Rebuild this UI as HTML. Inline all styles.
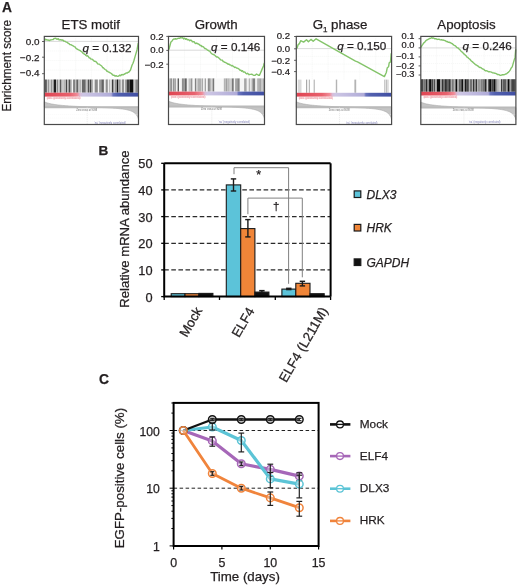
<!DOCTYPE html>
<html><head><meta charset="utf-8"><style>
html,body{margin:0;padding:0;background:#fff;}
svg{display:block;font-family:"Liberation Sans", Arial, Helvetica, sans-serif;filter:blur(0.3px);}
.h{stroke:#231f20;stroke-width:0.25px;}
</style></head><body>
<svg width="520" height="586" viewBox="0 0 520 586">
<rect width="520" height="586" fill="#fff"/>
<text x="2.1" y="11.9" font-size="13.8" font-weight="bold" fill="#231f20" class="h">A</text>
<text transform="translate(10.9,65.8) rotate(-90) scale(0.95,1)" font-size="12.4" text-anchor="middle" fill="#231f20" class="h">Enrichment score</text>
<defs>
<linearGradient id="cbh0" x1="0" x2="1" y1="0" y2="0">
<stop offset="0" stop-color="#e04452"/><stop offset="0.270" stop-color="#e8626e"/><stop offset="0.350" stop-color="#f08c98"/><stop offset="0.380" stop-color="#d8bcd8"/><stop offset="0.410" stop-color="#cdc6e4"/>
<stop offset="0.710" stop-color="#b0acd8"/><stop offset="0.730" stop-color="#6a74be"/><stop offset="0.780" stop-color="#5260ae"/><stop offset="1" stop-color="#404ea2"/></linearGradient>
<linearGradient id="cbh1" x1="0" x2="1" y1="0" y2="0">
<stop offset="0" stop-color="#e04452"/><stop offset="0.270" stop-color="#e8626e"/><stop offset="0.350" stop-color="#f08c98"/><stop offset="0.380" stop-color="#d8bcd8"/><stop offset="0.410" stop-color="#cdc6e4"/>
<stop offset="0.710" stop-color="#b0acd8"/><stop offset="0.730" stop-color="#6a74be"/><stop offset="0.780" stop-color="#5260ae"/><stop offset="1" stop-color="#404ea2"/></linearGradient>
<linearGradient id="cbh2" x1="0" x2="1" y1="0" y2="0">
<stop offset="0" stop-color="#e04452"/><stop offset="0.270" stop-color="#e8626e"/><stop offset="0.350" stop-color="#f08c98"/><stop offset="0.380" stop-color="#d8bcd8"/><stop offset="0.410" stop-color="#cdc6e4"/>
<stop offset="0.710" stop-color="#b0acd8"/><stop offset="0.730" stop-color="#6a74be"/><stop offset="0.780" stop-color="#5260ae"/><stop offset="1" stop-color="#404ea2"/></linearGradient>
<linearGradient id="cbh3" x1="0" x2="1" y1="0" y2="0">
<stop offset="0" stop-color="#e04452"/><stop offset="0.270" stop-color="#e8626e"/><stop offset="0.350" stop-color="#f08c98"/><stop offset="0.380" stop-color="#d8bcd8"/><stop offset="0.410" stop-color="#cdc6e4"/>
<stop offset="0.710" stop-color="#b0acd8"/><stop offset="0.730" stop-color="#6a74be"/><stop offset="0.780" stop-color="#5260ae"/><stop offset="1" stop-color="#404ea2"/></linearGradient>
</defs>
<text x="90.75" y="29.2" font-size="13.3" text-anchor="middle" fill="#231f20" class="h">ETS motif</text>
<rect x="44.3" y="36.4" width="94.2" height="88.1" fill="#fff"/>
<line x1="60.0" y1="38.4" x2="60.0" y2="79.5" stroke="#eef0ee" stroke-width="0.6" stroke-dasharray="1,1"/>
<line x1="75.7" y1="38.4" x2="75.7" y2="79.5" stroke="#eef0ee" stroke-width="0.6" stroke-dasharray="1,1"/>
<line x1="91.4" y1="38.4" x2="91.4" y2="79.5" stroke="#eef0ee" stroke-width="0.6" stroke-dasharray="1,1"/>
<line x1="107.1" y1="38.4" x2="107.1" y2="79.5" stroke="#eef0ee" stroke-width="0.6" stroke-dasharray="1,1"/>
<line x1="122.8" y1="38.4" x2="122.8" y2="79.5" stroke="#eef0ee" stroke-width="0.6" stroke-dasharray="1,1"/>
<line x1="44.3" y1="50.9" x2="138.5" y2="50.9" stroke="#f0f2f0" stroke-width="0.6" stroke-dasharray="1,1"/>
<line x1="44.3" y1="60.5" x2="138.5" y2="60.5" stroke="#f0f2f0" stroke-width="0.6" stroke-dasharray="1,1"/>
<line x1="44.3" y1="70.0" x2="138.5" y2="70.0" stroke="#f0f2f0" stroke-width="0.6" stroke-dasharray="1,1"/>
<line x1="44.3" y1="41.4" x2="138.5" y2="41.4" stroke="#d0d0d0" stroke-width="0.8"/>
<polyline points="44.6,40.50 45.5,39.15 46.3,39.52 47.1,40.14 47.9,39.95 48.7,40.25 49.5,40.59 50.4,39.87 51.3,39.88 52.2,39.68 53.2,39.53 54.1,38.51 55.0,38.40 55.8,38.32 56.6,39.17 57.4,39.18 58.2,38.66 59.0,39.73 59.8,39.84 60.6,39.65 61.4,40.03 62.2,39.98 63.1,40.25 63.9,41.17 64.7,41.12 65.5,41.66 66.4,42.12 67.2,42.32 68.0,43.16 68.9,43.61 69.8,44.48 70.8,44.62 71.7,45.21 72.6,45.53 73.5,46.16 74.3,46.57 75.2,47.00 76.0,48.33 76.8,48.94 77.7,49.40 78.5,49.87 79.3,50.09 80.2,50.62 81.0,51.29 81.8,51.66 82.6,52.95 83.5,53.17 84.3,54.21 85.1,54.34 85.9,55.50 86.7,55.98 87.5,55.73 88.4,56.53 89.2,57.82 90.0,57.97 90.9,59.07 91.7,59.08 92.6,59.35 93.4,60.49 94.3,61.23 95.1,61.32 96.0,61.72 96.8,62.56 97.7,63.78 98.5,64.17 99.4,64.12 100.2,64.97 101.0,65.55 101.9,66.23 102.7,67.69 103.5,67.79 104.3,68.89 105.2,69.50 106.0,69.97 106.8,71.23 107.6,71.13 108.4,72.14 109.3,72.12 110.1,72.92 110.9,73.21 111.7,73.77 112.6,74.97 113.4,75.30 114.2,75.30 115.1,76.15 116.1,75.74 117.0,76.19 117.9,76.39 118.8,75.92 119.7,75.12 120.6,75.75 121.5,74.71 122.3,74.56 123.2,74.87 124.0,74.23 124.8,74.00 125.6,73.35 126.4,72.95 127.3,73.02 128.1,72.26 128.9,72.20 130.5,69.97 132.1,65.05 132.9,63.51 133.8,60.98 135.4,55.37 137.0,49.97 138.3,43.00" fill="none" stroke="#84c46a" stroke-width="1.4" stroke-linejoin="round"/>
<text x="131.5" y="51.5" font-size="11.7" text-anchor="end" fill="#231f20" class="h"><tspan font-style="italic">q</tspan> = 0.132</text>
<rect x="44.8" y="79.5" width="1.20" height="13.2" fill="rgb(90,90,90)"/>
<rect x="46" y="79.5" width="1.00" height="13.2" fill="rgb(110,110,110)"/>
<rect x="47" y="79.5" width="1.00" height="13.2" fill="rgb(200,200,200)"/>
<rect x="48" y="79.5" width="1.00" height="13.2" fill="rgb(150,150,150)"/>
<rect x="49" y="79.5" width="2.00" height="13.2" fill="rgb(205,205,205)"/>
<rect x="51" y="79.5" width="1.00" height="13.2" fill="rgb(150,150,150)"/>
<rect x="52" y="79.5" width="1.00" height="13.2" fill="rgb(195,195,195)"/>
<rect x="53" y="79.5" width="0.80" height="13.2" fill="rgb(160,160,160)"/>
<rect x="53.8" y="79.5" width="2.20" height="13.2" fill="rgb(30,30,30)"/>
<rect x="56" y="79.5" width="1.00" height="13.2" fill="rgb(190,190,190)"/>
<rect x="57" y="79.5" width="1.20" height="13.2" fill="rgb(140,140,140)"/>
<rect x="58.2" y="79.5" width="1.60" height="13.2" fill="rgb(200,200,200)"/>
<rect x="59.8" y="79.5" width="1.20" height="13.2" fill="rgb(90,90,90)"/>
<rect x="61" y="79.5" width="1.00" height="13.2" fill="rgb(175,175,175)"/>
<rect x="62" y="79.5" width="2.00" height="13.2" fill="rgb(200,200,200)"/>
<rect x="64" y="79.5" width="1.00" height="13.2" fill="rgb(180,180,180)"/>
<rect x="65" y="79.5" width="0.80" height="13.2" fill="rgb(195,195,195)"/>
<rect x="65.8" y="79.5" width="1.20" height="13.2" fill="rgb(70,70,70)"/>
<rect x="67" y="79.5" width="1.60" height="13.2" fill="rgb(190,190,190)"/>
<rect x="68.6" y="79.5" width="1.40" height="13.2" fill="rgb(80,80,80)"/>
<rect x="70" y="79.5" width="1.80" height="13.2" fill="rgb(160,160,160)"/>
<rect x="71.8" y="79.5" width="1.40" height="13.2" fill="rgb(245,245,245)"/>
<rect x="73.2" y="79.5" width="1.70" height="13.2" fill="rgb(110,110,110)"/>
<rect x="74.9" y="79.5" width="1.40" height="13.2" fill="rgb(190,190,190)"/>
<rect x="76.3" y="79.5" width="2.20" height="13.2" fill="rgb(100,100,100)"/>
<rect x="78.5" y="79.5" width="1.00" height="13.2" fill="rgb(200,200,200)"/>
<rect x="79.5" y="79.5" width="1.40" height="13.2" fill="rgb(165,165,165)"/>
<rect x="80.9" y="79.5" width="0.90" height="13.2" fill="rgb(240,240,240)"/>
<rect x="81.8" y="79.5" width="3.90" height="13.2" fill="rgb(105,105,105)"/>
<rect x="85.7" y="79.5" width="0.80" height="13.2" fill="rgb(140,140,140)"/>
<rect x="86.5" y="79.5" width="1.20" height="13.2" fill="rgb(200,200,200)"/>
<rect x="87.7" y="79.5" width="1.30" height="13.2" fill="rgb(80,80,80)"/>
<rect x="89" y="79.5" width="0.90" height="13.2" fill="rgb(160,160,160)"/>
<rect x="89.9" y="79.5" width="1.30" height="13.2" fill="rgb(70,70,70)"/>
<rect x="91.2" y="79.5" width="1.60" height="13.2" fill="rgb(140,140,140)"/>
<rect x="92.8" y="79.5" width="1.70" height="13.2" fill="rgb(240,240,240)"/>
<rect x="94.5" y="79.5" width="0.50" height="13.2" fill="rgb(170,170,170)"/>
<rect x="95" y="79.5" width="2.90" height="13.2" fill="rgb(140,140,140)"/>
<rect x="97.9" y="79.5" width="1.20" height="13.2" fill="rgb(245,245,245)"/>
<rect x="99.1" y="79.5" width="2.20" height="13.2" fill="rgb(155,155,155)"/>
<rect x="101.3" y="79.5" width="2.60" height="13.2" fill="rgb(100,100,100)"/>
<rect x="103.9" y="79.5" width="0.50" height="13.2" fill="rgb(170,170,170)"/>
<rect x="104.4" y="79.5" width="1.20" height="13.2" fill="rgb(245,245,245)"/>
<rect x="105.6" y="79.5" width="0.70" height="13.2" fill="rgb(150,150,150)"/>
<rect x="106.3" y="79.5" width="1.20" height="13.2" fill="rgb(110,110,110)"/>
<rect x="107.5" y="79.5" width="0.70" height="13.2" fill="rgb(150,150,150)"/>
<rect x="108.2" y="79.5" width="1.00" height="13.2" fill="rgb(240,240,240)"/>
<rect x="109.2" y="79.5" width="1.30" height="13.2" fill="rgb(170,170,170)"/>
<rect x="110.5" y="79.5" width="1.00" height="13.2" fill="rgb(235,235,235)"/>
<rect x="111.5" y="79.5" width="0.60" height="13.2" fill="rgb(160,160,160)"/>
<rect x="112.1" y="79.5" width="1.10" height="13.2" fill="rgb(40,40,40)"/>
<rect x="113.2" y="79.5" width="0.80" height="13.2" fill="rgb(140,140,140)"/>
<rect x="114" y="79.5" width="1.00" height="13.2" fill="rgb(200,200,200)"/>
<rect x="115" y="79.5" width="1.90" height="13.2" fill="rgb(150,150,150)"/>
<rect x="116.9" y="79.5" width="1.30" height="13.2" fill="rgb(20,20,20)"/>
<rect x="118.2" y="79.5" width="2.60" height="13.2" fill="rgb(150,150,150)"/>
<rect x="120.8" y="79.5" width="1.00" height="13.2" fill="rgb(235,235,235)"/>
<rect x="121.8" y="79.5" width="0.80" height="13.2" fill="rgb(160,160,160)"/>
<rect x="122.6" y="79.5" width="1.00" height="13.2" fill="rgb(70,70,70)"/>
<rect x="123.6" y="79.5" width="0.60" height="13.2" fill="rgb(160,160,160)"/>
<rect x="124.2" y="79.5" width="1.00" height="13.2" fill="rgb(230,230,230)"/>
<rect x="125.2" y="79.5" width="1.80" height="13.2" fill="rgb(145,145,145)"/>
<rect x="127" y="79.5" width="2.60" height="13.2" fill="rgb(65,65,65)"/>
<rect x="129.6" y="79.5" width="3.40" height="13.2" fill="rgb(15,15,15)"/>
<rect x="133" y="79.5" width="1.50" height="13.2" fill="rgb(150,150,150)"/>
<rect x="134.5" y="79.5" width="0.80" height="13.2" fill="rgb(210,210,210)"/>
<rect x="135.3" y="79.5" width="2.90" height="13.2" fill="rgb(140,140,140)"/>
<rect x="44.3" y="92.7" width="94.2" height="3.9" fill="url(#cbh0)"/>
<rect x="46.599999999999994" y="97.5" width="33.9" height="1.3" fill="#f8d4d8"/>
<text x="46.599999999999994" y="99.0" font-size="2.9" fill="#ee98a2" textLength="33.9" lengthAdjust="spacingAndGlyphs">'pos' (positively correlated)</text>
<polygon points="44.3,107.2 44.30,101.79 45.08,102.12 45.87,102.42 46.65,102.70 47.44,102.95 48.22,103.17 49.01,103.38 49.79,103.57 50.58,103.75 51.36,103.91 52.15,104.07 52.93,104.21 53.72,104.34 54.50,104.47 55.29,104.59 56.07,104.70 56.86,104.80 57.64,104.90 58.43,105.00 59.21,105.09 60.00,105.17 60.78,105.25 61.57,105.33 62.36,105.40 63.14,105.48 63.92,105.54 64.71,105.61 65.50,105.67 66.28,105.73 67.06,105.79 67.85,105.85 68.64,105.90 69.42,105.96 70.20,106.01 70.99,106.06 71.78,106.10 72.56,106.15 73.34,106.20 74.13,106.24 74.91,106.28 75.70,106.33 76.48,106.37 77.27,106.41 78.06,106.45 78.84,106.49 79.62,106.53 80.41,106.56 81.19,106.60 81.98,106.64 82.77,106.67 83.55,106.71 84.34,106.74 85.12,106.78 85.91,106.81 86.69,106.85 87.47,106.88 88.26,106.92 89.04,106.95 89.83,106.98 90.61,107.02 91.40,107.05 92.19,107.08 92.97,107.12 93.75,107.15 94.54,107.18 95.32,107.22 96.11,107.25 96.90,107.28 97.68,107.32 98.47,107.35 99.25,107.39 100.03,107.42 100.82,107.46 101.60,107.50 102.39,107.53 103.17,107.57 103.96,107.61 104.75,107.65 105.53,107.69 106.31,107.73 107.10,107.77 107.89,107.82 108.67,107.86 109.45,107.91 110.24,107.96 111.03,108.01 111.81,108.06 112.59,108.11 113.38,108.16 114.17,108.22 114.95,108.28 115.73,108.34 116.52,108.41 117.31,108.48 118.09,108.55 118.88,108.63 119.66,108.71 120.45,108.80 121.23,108.89 122.02,108.99 122.80,109.09 123.58,109.21 124.37,109.33 125.16,109.46 125.94,109.60 126.72,109.76 127.51,109.94 128.30,110.13 129.08,110.34 129.87,110.58 130.65,110.85 131.44,111.15 132.22,111.51 133.00,111.91 133.79,112.39 134.57,112.97 135.36,113.67 136.14,114.54 136.93,115.66 137.72,117.13 138.50,119.19 138.5,107.2" fill="#c4c4c4" stroke="#a6a6a6" stroke-width="0.6"/>
<line x1="44.3" y1="107.2" x2="138.5" y2="107.2" stroke="#bababa" stroke-width="2"/>
<line x1="44.3" y1="114.5" x2="138.5" y2="114.5" stroke="#f5f5f5" stroke-width="0.5" stroke-dasharray="1,1"/>
<line x1="44.3" y1="118.0" x2="138.5" y2="118.0" stroke="#f5f5f5" stroke-width="0.5" stroke-dasharray="1,1"/>
<line x1="44.3" y1="121.0" x2="138.5" y2="121.0" stroke="#f5f5f5" stroke-width="0.5" stroke-dasharray="1,1"/>
<line x1="87.2" y1="107.2" x2="87.2" y2="124.5" stroke="#dadada" stroke-width="0.6" stroke-dasharray="1,1"/>
<text x="76.2" y="110.9" font-size="2.8" fill="#6a6a6a" textLength="21" lengthAdjust="spacingAndGlyphs">Zero cross at 9098</text>
<text x="94.3" y="123.7" font-size="2.8" fill="#8080b8" textLength="31.5" lengthAdjust="spacingAndGlyphs">'na' (negatively correlated)</text>
<rect x="44.3" y="36.4" width="94.2" height="88.1" fill="none" stroke="#4a4a4a" stroke-width="1.2"/>
<line x1="42.099999999999994" y1="41.5" x2="44.3" y2="41.5" stroke="#4a4a4a" stroke-width="0.9"/>
<line x1="42.099999999999994" y1="57.2" x2="44.3" y2="57.2" stroke="#4a4a4a" stroke-width="0.9"/>
<line x1="42.099999999999994" y1="73.7" x2="44.3" y2="73.7" stroke="#4a4a4a" stroke-width="0.9"/>
<text transform="translate(39.4,45.4) scale(1,1.0)" font-size="9.9" text-anchor="end" fill="#231f20" class="h">0.0</text>
<text transform="translate(39.4,60.7) scale(1,1.0)" font-size="9.9" text-anchor="end" fill="#231f20" class="h">&#8722;0.2</text>
<text transform="translate(39.4,76.4) scale(1,1.0)" font-size="9.9" text-anchor="end" fill="#231f20" class="h">&#8722;0.4</text>
<text x="216.2" y="29.2" font-size="13.3" text-anchor="middle" fill="#231f20" class="h">Growth</text>
<rect x="168.5" y="36.4" width="96.0" height="88.1" fill="#fff"/>
<line x1="184.5" y1="38.4" x2="184.5" y2="78.4" stroke="#eef0ee" stroke-width="0.6" stroke-dasharray="1,1"/>
<line x1="200.5" y1="38.4" x2="200.5" y2="78.4" stroke="#eef0ee" stroke-width="0.6" stroke-dasharray="1,1"/>
<line x1="216.5" y1="38.4" x2="216.5" y2="78.4" stroke="#eef0ee" stroke-width="0.6" stroke-dasharray="1,1"/>
<line x1="232.5" y1="38.4" x2="232.5" y2="78.4" stroke="#eef0ee" stroke-width="0.6" stroke-dasharray="1,1"/>
<line x1="248.5" y1="38.4" x2="248.5" y2="78.4" stroke="#eef0ee" stroke-width="0.6" stroke-dasharray="1,1"/>
<line x1="168.5" y1="57.2" x2="264.5" y2="57.2" stroke="#f0f2f0" stroke-width="0.6" stroke-dasharray="1,1"/>
<line x1="168.5" y1="64.3" x2="264.5" y2="64.3" stroke="#f0f2f0" stroke-width="0.6" stroke-dasharray="1,1"/>
<line x1="168.5" y1="71.4" x2="264.5" y2="71.4" stroke="#f0f2f0" stroke-width="0.6" stroke-dasharray="1,1"/>
<line x1="168.5" y1="50.2" x2="264.5" y2="50.2" stroke="#d0d0d0" stroke-width="0.8"/>
<polyline points="168.9,49.70 169.9,45.72 170.9,41.99 171.9,41.23 172.8,39.84 173.8,38.91 174.6,39.11 175.4,38.75 176.2,39.15 177.0,38.77 177.8,38.42 178.8,38.27 179.8,38.29 180.7,37.57 181.7,37.83 182.7,37.74 183.6,38.89 184.6,38.12 185.6,39.28 186.4,38.68 187.3,39.70 188.1,39.56 189.0,39.93 189.8,40.74 190.7,40.04 191.5,40.37 192.4,41.83 193.2,41.78 194.1,41.71 195.0,43.22 195.8,43.60 196.7,43.04 197.6,43.84 198.4,43.93 199.3,44.58 200.2,45.49 201.1,45.49 201.9,46.67 202.8,46.44 203.7,47.13 204.6,48.45 205.4,48.49 206.3,49.06 207.2,49.82 208.1,50.33 208.9,50.87 209.8,51.10 210.7,52.59 211.5,53.54 212.4,54.20 213.3,54.49 214.1,54.77 215.0,55.44 215.8,56.39 216.6,56.94 217.4,56.84 218.3,57.55 219.1,58.27 219.9,59.01 220.7,59.94 221.5,60.13 222.4,60.13 223.2,61.65 224.0,61.75 224.8,62.42 225.6,62.47 226.5,63.13 227.3,63.49 228.1,64.36 228.9,63.96 229.8,64.91 230.6,64.87 231.4,65.90 232.2,65.52 233.0,66.22 233.9,66.70 234.7,67.46 235.6,67.16 236.5,68.05 237.4,68.15 238.3,68.64 239.2,69.27 240.1,70.25 240.9,70.16 241.7,71.21 242.6,70.74 243.4,72.13 244.2,71.94 245.0,72.15 245.8,73.24 246.7,73.85 247.5,73.19 248.3,73.92 249.1,74.68 249.9,74.33 250.8,74.37 251.6,74.25 252.4,74.45 253.2,75.06 254.0,75.42 254.9,75.36 255.7,74.68 256.5,74.03 257.5,74.52 258.4,75.21 259.4,75.40 260.6,72.67 262.2,68.88 263.5,66.03 264.3,63.00" fill="none" stroke="#84c46a" stroke-width="1.4" stroke-linejoin="round"/>
<text x="260.2" y="50.9" font-size="11.7" text-anchor="end" fill="#231f20" class="h"><tspan font-style="italic">q</tspan> = 0.146</text>
<rect x="169" y="78.4" width="1.50" height="13.2" fill="rgb(200,200,200)"/>
<rect x="170.5" y="78.4" width="1.30" height="13.2" fill="rgb(100,100,100)"/>
<rect x="171.8" y="78.4" width="1.20" height="13.2" fill="rgb(220,220,220)"/>
<rect x="173" y="78.4" width="1.20" height="13.2" fill="rgb(150,150,150)"/>
<rect x="174.2" y="78.4" width="1.80" height="13.2" fill="rgb(165,165,165)"/>
<rect x="176" y="78.4" width="1.60" height="13.2" fill="rgb(240,240,240)"/>
<rect x="177.6" y="78.4" width="1.40" height="13.2" fill="rgb(95,95,95)"/>
<rect x="179" y="78.4" width="2.90" height="13.2" fill="rgb(245,245,245)"/>
<rect x="181.9" y="78.4" width="1.00" height="13.2" fill="rgb(130,130,130)"/>
<rect x="182.9" y="78.4" width="1.90" height="13.2" fill="rgb(150,150,150)"/>
<rect x="184.8" y="78.4" width="1.20" height="13.2" fill="rgb(100,100,100)"/>
<rect x="186" y="78.4" width="1.00" height="13.2" fill="rgb(140,140,140)"/>
<rect x="187" y="78.4" width="1.50" height="13.2" fill="rgb(240,240,240)"/>
<rect x="188.5" y="78.4" width="2.50" height="13.2" fill="rgb(195,195,195)"/>
<rect x="191" y="78.4" width="1.40" height="13.2" fill="rgb(150,150,150)"/>
<rect x="192.4" y="78.4" width="0.50" height="13.2" fill="rgb(200,200,200)"/>
<rect x="192.9" y="78.4" width="1.70" height="13.2" fill="rgb(245,245,245)"/>
<rect x="194.6" y="78.4" width="0.40" height="13.2" fill="rgb(200,200,200)"/>
<rect x="195" y="78.4" width="1.30" height="13.2" fill="rgb(130,130,130)"/>
<rect x="196.3" y="78.4" width="1.60" height="13.2" fill="rgb(200,200,200)"/>
<rect x="197.9" y="78.4" width="3.10" height="13.2" fill="rgb(175,175,175)"/>
<rect x="201" y="78.4" width="1.00" height="13.2" fill="rgb(205,205,205)"/>
<rect x="202" y="78.4" width="1.00" height="13.2" fill="rgb(170,170,170)"/>
<rect x="203" y="78.4" width="0.50" height="13.2" fill="rgb(210,210,210)"/>
<rect x="203.5" y="78.4" width="0.90" height="13.2" fill="rgb(245,245,245)"/>
<rect x="204.4" y="78.4" width="0.50" height="13.2" fill="rgb(200,200,200)"/>
<rect x="204.9" y="78.4" width="1.00" height="13.2" fill="rgb(150,150,150)"/>
<rect x="205.9" y="78.4" width="0.20" height="13.2" fill="rgb(200,200,200)"/>
<rect x="206.1" y="78.4" width="1.40" height="13.2" fill="rgb(245,245,245)"/>
<rect x="207.5" y="78.4" width="0.80" height="13.2" fill="rgb(200,200,200)"/>
<rect x="208.3" y="78.4" width="1.40" height="13.2" fill="rgb(100,100,100)"/>
<rect x="209.7" y="78.4" width="0.50" height="13.2" fill="rgb(170,170,170)"/>
<rect x="210.2" y="78.4" width="1.00" height="13.2" fill="rgb(170,170,170)"/>
<rect x="211.2" y="78.4" width="1.40" height="13.2" fill="rgb(205,205,205)"/>
<rect x="212.6" y="78.4" width="1.60" height="13.2" fill="rgb(120,120,120)"/>
<rect x="214.2" y="78.4" width="0.80" height="13.2" fill="rgb(220,220,220)"/>
<rect x="215" y="78.4" width="8.80" height="13.2" fill="rgb(248,248,248)"/>
<rect x="223.8" y="78.4" width="1.50" height="13.2" fill="rgb(180,180,180)"/>
<rect x="225.3" y="78.4" width="0.70" height="13.2" fill="rgb(175,175,175)"/>
<rect x="226" y="78.4" width="1.40" height="13.2" fill="rgb(160,160,160)"/>
<rect x="227.4" y="78.4" width="1.00" height="13.2" fill="rgb(180,180,180)"/>
<rect x="228.4" y="78.4" width="1.20" height="13.2" fill="rgb(160,160,160)"/>
<rect x="229.6" y="78.4" width="2.20" height="13.2" fill="rgb(210,210,210)"/>
<rect x="231.8" y="78.4" width="1.40" height="13.2" fill="rgb(120,120,120)"/>
<rect x="233.2" y="78.4" width="1.00" height="13.2" fill="rgb(140,140,140)"/>
<rect x="234.2" y="78.4" width="0.90" height="13.2" fill="rgb(245,245,245)"/>
<rect x="235.1" y="78.4" width="2.10" height="13.2" fill="rgb(165,165,165)"/>
<rect x="237.2" y="78.4" width="2.60" height="13.2" fill="rgb(135,135,135)"/>
<rect x="239.8" y="78.4" width="4.30" height="13.2" fill="rgb(245,245,245)"/>
<rect x="244.1" y="78.4" width="2.60" height="13.2" fill="rgb(165,165,165)"/>
<rect x="246.7" y="78.4" width="0.30" height="13.2" fill="rgb(200,200,200)"/>
<rect x="247" y="78.4" width="1.70" height="13.2" fill="rgb(240,240,240)"/>
<rect x="248.7" y="78.4" width="1.70" height="13.2" fill="rgb(180,180,180)"/>
<rect x="250.4" y="78.4" width="1.20" height="13.2" fill="rgb(235,235,235)"/>
<rect x="251.6" y="78.4" width="1.10" height="13.2" fill="rgb(160,160,160)"/>
<rect x="252.7" y="78.4" width="2.30" height="13.2" fill="rgb(130,130,130)"/>
<rect x="255" y="78.4" width="0.60" height="13.2" fill="rgb(200,200,200)"/>
<rect x="255.6" y="78.4" width="1.80" height="13.2" fill="rgb(240,240,240)"/>
<rect x="257.4" y="78.4" width="1.40" height="13.2" fill="rgb(150,150,150)"/>
<rect x="258.8" y="78.4" width="0.30" height="13.2" fill="rgb(210,210,210)"/>
<rect x="259.1" y="78.4" width="2.60" height="13.2" fill="rgb(165,165,165)"/>
<rect x="261.7" y="78.4" width="0.80" height="13.2" fill="rgb(215,215,215)"/>
<rect x="262.5" y="78.4" width="1.50" height="13.2" fill="rgb(170,170,170)"/>
<rect x="168.5" y="91.6" width="96.0" height="3.8" fill="url(#cbh1)"/>
<rect x="170.8" y="96.3" width="34.6" height="1.3" fill="#f8d4d8"/>
<text x="170.8" y="97.8" font-size="2.9" fill="#ee98a2" textLength="34.6" lengthAdjust="spacingAndGlyphs">'pos' (positively correlated)</text>
<polygon points="168.5,106.6 168.50,101.18 169.30,101.52 170.10,101.82 170.90,102.10 171.70,102.35 172.50,102.58 173.30,102.79 174.10,102.98 174.90,103.16 175.70,103.33 176.50,103.48 177.30,103.62 178.10,103.76 178.90,103.88 179.70,104.00 180.50,104.11 181.30,104.22 182.10,104.32 182.90,104.41 183.70,104.50 184.50,104.59 185.30,104.67 186.10,104.74 186.90,104.82 187.70,104.89 188.50,104.96 189.30,105.02 190.10,105.08 190.90,105.15 191.70,105.20 192.50,105.26 193.30,105.31 194.10,105.37 194.90,105.42 195.70,105.47 196.50,105.51 197.30,105.56 198.10,105.61 198.90,105.65 199.70,105.69 200.50,105.73 201.30,105.78 202.10,105.82 202.90,105.86 203.70,105.89 204.50,105.93 205.30,105.97 206.10,106.01 206.90,106.04 207.70,106.08 208.50,106.11 209.30,106.15 210.10,106.18 210.90,106.22 211.70,106.25 212.50,106.28 213.30,106.32 214.10,106.35 214.90,106.38 215.70,106.42 216.50,106.45 217.30,106.48 218.10,106.52 218.90,106.55 219.70,106.58 220.50,106.61 221.30,106.65 222.10,106.68 222.90,106.72 223.70,106.75 224.50,106.78 225.30,106.82 226.10,106.86 226.90,106.89 227.70,106.93 228.50,106.97 229.30,107.00 230.10,107.04 230.90,107.08 231.70,107.12 232.50,107.16 233.30,107.21 234.10,107.25 234.90,107.30 235.70,107.34 236.50,107.39 237.30,107.44 238.10,107.49 238.90,107.55 239.70,107.61 240.50,107.66 241.30,107.73 242.10,107.79 242.90,107.86 243.70,107.93 244.50,108.01 245.30,108.09 246.10,108.17 246.90,108.26 247.70,108.36 248.50,108.47 249.30,108.58 250.10,108.70 250.90,108.83 251.70,108.97 252.50,109.13 253.30,109.30 254.10,109.49 254.90,109.70 255.70,109.94 256.50,110.20 257.30,110.51 258.10,110.86 258.90,111.27 259.70,111.75 260.50,112.32 261.30,113.02 262.10,113.89 262.90,115.02 263.70,116.51 264.50,118.60 264.5,106.6" fill="#c4c4c4" stroke="#a6a6a6" stroke-width="0.6"/>
<line x1="168.5" y1="106.6" x2="264.5" y2="106.6" stroke="#bababa" stroke-width="2"/>
<line x1="168.5" y1="114.5" x2="264.5" y2="114.5" stroke="#f5f5f5" stroke-width="0.5" stroke-dasharray="1,1"/>
<line x1="168.5" y1="118.0" x2="264.5" y2="118.0" stroke="#f5f5f5" stroke-width="0.5" stroke-dasharray="1,1"/>
<line x1="168.5" y1="121.0" x2="264.5" y2="121.0" stroke="#f5f5f5" stroke-width="0.5" stroke-dasharray="1,1"/>
<line x1="211.8" y1="106.6" x2="211.8" y2="124.5" stroke="#dadada" stroke-width="0.6" stroke-dasharray="1,1"/>
<text x="201" y="109.8" font-size="2.8" fill="#6a6a6a" textLength="21" lengthAdjust="spacingAndGlyphs">Zero cross at 9098</text>
<text x="218.5" y="122.5" font-size="2.8" fill="#8080b8" textLength="31.5" lengthAdjust="spacingAndGlyphs">'na' (negatively correlated)</text>
<rect x="168.5" y="36.4" width="96.0" height="88.1" fill="none" stroke="#4a4a4a" stroke-width="1.2"/>
<line x1="166.3" y1="36.4" x2="168.5" y2="36.4" stroke="#4a4a4a" stroke-width="0.9"/>
<line x1="166.3" y1="50.4" x2="168.5" y2="50.4" stroke="#4a4a4a" stroke-width="0.9"/>
<line x1="166.3" y1="64.2" x2="168.5" y2="64.2" stroke="#4a4a4a" stroke-width="0.9"/>
<text transform="translate(163.5,40.4) scale(1,0.93)" font-size="9.6" text-anchor="end" fill="#231f20" class="h">0.2</text>
<text transform="translate(163.5,53.0) scale(1,0.93)" font-size="9.6" text-anchor="end" fill="#231f20" class="h">0.0</text>
<text transform="translate(163.5,67.6) scale(1,0.93)" font-size="9.6" text-anchor="end" fill="#231f20" class="h">&#8722;0.2</text>
<text x="340" y="29.2" font-size="13.3" text-anchor="middle" fill="#231f20" class="h">G<tspan font-size="8" dy="2.6">1</tspan><tspan dy="-2.6"> phase</tspan></text>
<rect x="296.3" y="36.4" width="95.30000000000001" height="88.1" fill="#fff"/>
<line x1="312.2" y1="38.4" x2="312.2" y2="79.6" stroke="#eef0ee" stroke-width="0.6" stroke-dasharray="1,1"/>
<line x1="328.1" y1="38.4" x2="328.1" y2="79.6" stroke="#eef0ee" stroke-width="0.6" stroke-dasharray="1,1"/>
<line x1="344.0" y1="38.4" x2="344.0" y2="79.6" stroke="#eef0ee" stroke-width="0.6" stroke-dasharray="1,1"/>
<line x1="359.8" y1="38.4" x2="359.8" y2="79.6" stroke="#eef0ee" stroke-width="0.6" stroke-dasharray="1,1"/>
<line x1="375.7" y1="38.4" x2="375.7" y2="79.6" stroke="#eef0ee" stroke-width="0.6" stroke-dasharray="1,1"/>
<line x1="296.3" y1="56.4" x2="391.6" y2="56.4" stroke="#f0f2f0" stroke-width="0.6" stroke-dasharray="1,1"/>
<line x1="296.3" y1="64.1" x2="391.6" y2="64.1" stroke="#f0f2f0" stroke-width="0.6" stroke-dasharray="1,1"/>
<line x1="296.3" y1="71.8" x2="391.6" y2="71.8" stroke="#f0f2f0" stroke-width="0.6" stroke-dasharray="1,1"/>
<line x1="296.3" y1="48.6" x2="391.6" y2="48.6" stroke="#d0d0d0" stroke-width="0.8"/>
<polyline points="296.9,48.40 298.2,44.60 299.4,43.60 300.7,40.70 303.6,42.10 306.5,39.80 308.4,41.70 310.9,39.40 313.2,41.30 316.1,38.80 355.5,61.20 357.5,61.90 384.4,76.60 386.3,72.50 387.3,67.70 388.6,66.70 389.2,62.80 390.5,61.90 391.2,53.20" fill="none" stroke="#84c46a" stroke-width="1.4" stroke-linejoin="round"/>
<text x="386.3" y="50.1" font-size="11.7" text-anchor="end" fill="#231f20" class="h"><tspan font-style="italic">q</tspan> = 0.150</text>
<rect x="297.8" y="79.6" width="3.70" height="13.2" fill="rgb(218,218,218)"/>
<rect x="306.0" y="79.6" width="1.20" height="13.2" fill="rgb(170,170,170)"/>
<rect x="308.8" y="79.6" width="1.00" height="13.2" fill="rgb(170,170,170)"/>
<rect x="313.7" y="79.6" width="1.00" height="13.2" fill="rgb(170,170,170)"/>
<rect x="335.8" y="79.6" width="1.40" height="13.2" fill="rgb(180,180,180)"/>
<rect x="354.4" y="79.6" width="1.80" height="13.2" fill="rgb(180,180,180)"/>
<rect x="384.2" y="79.6" width="1.00" height="13.2" fill="rgb(190,190,190)"/>
<rect x="385.2" y="79.6" width="0.80" height="13.2" fill="rgb(220,220,220)"/>
<rect x="386" y="79.6" width="1.20" height="13.2" fill="rgb(190,190,190)"/>
<rect x="387.5" y="79.6" width="1.00" height="13.2" fill="rgb(200,200,200)"/>
<rect x="296.3" y="92.8" width="95.30000000000001" height="3.8" fill="url(#cbh2)"/>
<rect x="298.6" y="97.5" width="34.3" height="1.3" fill="#f8d4d8"/>
<text x="298.6" y="99.0" font-size="2.9" fill="#ee98a2" textLength="34.3" lengthAdjust="spacingAndGlyphs">'pos' (positively correlated)</text>
<polygon points="296.3,107.2 296.30,101.78 297.09,102.12 297.89,102.42 298.68,102.70 299.48,102.95 300.27,103.18 301.06,103.39 301.86,103.58 302.65,103.76 303.45,103.92 304.24,104.07 305.04,104.22 305.83,104.35 306.62,104.48 307.42,104.60 308.21,104.71 309.01,104.81 309.80,104.91 310.60,105.01 311.39,105.10 312.18,105.18 312.98,105.26 313.77,105.34 314.57,105.41 315.36,105.48 316.15,105.55 316.95,105.62 317.74,105.68 318.54,105.74 319.33,105.80 320.12,105.85 320.92,105.91 321.71,105.96 322.51,106.01 323.30,106.06 324.10,106.11 324.89,106.16 325.68,106.20 326.48,106.25 327.27,106.29 328.07,106.33 328.86,106.37 329.66,106.41 330.45,106.45 331.24,106.49 332.04,106.53 332.83,106.57 333.63,106.60 334.42,106.64 335.21,106.68 336.01,106.71 336.80,106.75 337.60,106.78 338.39,106.82 339.19,106.85 339.98,106.88 340.77,106.92 341.57,106.95 342.36,106.98 343.16,107.02 343.95,107.05 344.74,107.08 345.54,107.12 346.33,107.15 347.13,107.18 347.92,107.22 348.72,107.25 349.51,107.28 350.30,107.32 351.10,107.35 351.89,107.39 352.69,107.42 353.48,107.46 354.27,107.49 355.07,107.53 355.86,107.57 356.66,107.61 357.45,107.65 358.25,107.69 359.04,107.73 359.83,107.77 360.63,107.81 361.42,107.86 362.22,107.90 363.01,107.95 363.80,108.00 364.60,108.05 365.39,108.10 366.19,108.16 366.98,108.21 367.78,108.27 368.57,108.33 369.36,108.40 370.16,108.47 370.95,108.54 371.75,108.62 372.54,108.70 373.33,108.78 374.13,108.87 374.92,108.97 375.72,109.08 376.51,109.19 377.31,109.31 378.10,109.44 378.89,109.58 379.69,109.74 380.48,109.91 381.28,110.10 382.07,110.32 382.86,110.55 383.66,110.82 384.45,111.13 385.25,111.48 386.04,111.88 386.84,112.36 387.63,112.94 388.42,113.64 389.22,114.51 390.01,115.63 390.81,117.12 391.60,119.20 391.6,107.2" fill="#c4c4c4" stroke="#a6a6a6" stroke-width="0.6"/>
<line x1="296.3" y1="107.2" x2="391.6" y2="107.2" stroke="#bababa" stroke-width="2"/>
<line x1="296.3" y1="114.5" x2="391.6" y2="114.5" stroke="#f5f5f5" stroke-width="0.5" stroke-dasharray="1,1"/>
<line x1="296.3" y1="118.0" x2="391.6" y2="118.0" stroke="#f5f5f5" stroke-width="0.5" stroke-dasharray="1,1"/>
<line x1="296.3" y1="121.0" x2="391.6" y2="121.0" stroke="#f5f5f5" stroke-width="0.5" stroke-dasharray="1,1"/>
<line x1="339.5" y1="107.2" x2="339.5" y2="124.5" stroke="#dadada" stroke-width="0.6" stroke-dasharray="1,1"/>
<text x="328.7" y="110.9" font-size="2.8" fill="#6a6a6a" textLength="21" lengthAdjust="spacingAndGlyphs">Zero cross at 9098</text>
<text x="346" y="124.1" font-size="2.8" fill="#8080b8" textLength="31.5" lengthAdjust="spacingAndGlyphs">'na' (negatively correlated)</text>
<rect x="296.3" y="36.4" width="95.30000000000001" height="88.1" fill="none" stroke="#4a4a4a" stroke-width="1.2"/>
<line x1="294.1" y1="36.5" x2="296.3" y2="36.5" stroke="#4a4a4a" stroke-width="0.9"/>
<line x1="294.1" y1="48.8" x2="296.3" y2="48.8" stroke="#4a4a4a" stroke-width="0.9"/>
<line x1="294.1" y1="60.3" x2="296.3" y2="60.3" stroke="#4a4a4a" stroke-width="0.9"/>
<line x1="294.1" y1="71.6" x2="296.3" y2="71.6" stroke="#4a4a4a" stroke-width="0.9"/>
<text transform="translate(290.1,39.4) scale(1,0.93)" font-size="9.6" text-anchor="end" fill="#231f20" class="h">0.2</text>
<text transform="translate(290.1,51.7) scale(1,0.93)" font-size="9.6" text-anchor="end" fill="#231f20" class="h">0.0</text>
<text transform="translate(290.1,63.5) scale(1,0.93)" font-size="9.6" text-anchor="end" fill="#231f20" class="h">&#8722;0.2</text>
<text transform="translate(290.1,75.0) scale(1,0.93)" font-size="9.6" text-anchor="end" fill="#231f20" class="h">&#8722;0.4</text>
<text x="466.5" y="29.2" font-size="13.3" text-anchor="middle" fill="#231f20" class="h">Apoptosis</text>
<rect x="420.8" y="36.4" width="95.09999999999997" height="88.1" fill="#fff"/>
<line x1="436.6" y1="38.4" x2="436.6" y2="79.2" stroke="#eef0ee" stroke-width="0.6" stroke-dasharray="1,1"/>
<line x1="452.5" y1="38.4" x2="452.5" y2="79.2" stroke="#eef0ee" stroke-width="0.6" stroke-dasharray="1,1"/>
<line x1="468.4" y1="38.4" x2="468.4" y2="79.2" stroke="#eef0ee" stroke-width="0.6" stroke-dasharray="1,1"/>
<line x1="484.2" y1="38.4" x2="484.2" y2="79.2" stroke="#eef0ee" stroke-width="0.6" stroke-dasharray="1,1"/>
<line x1="500.0" y1="38.4" x2="500.0" y2="79.2" stroke="#eef0ee" stroke-width="0.6" stroke-dasharray="1,1"/>
<line x1="420.8" y1="55.7" x2="515.9" y2="55.7" stroke="#f0f2f0" stroke-width="0.6" stroke-dasharray="1,1"/>
<line x1="420.8" y1="63.5" x2="515.9" y2="63.5" stroke="#f0f2f0" stroke-width="0.6" stroke-dasharray="1,1"/>
<line x1="420.8" y1="71.4" x2="515.9" y2="71.4" stroke="#f0f2f0" stroke-width="0.6" stroke-dasharray="1,1"/>
<line x1="420.8" y1="47.9" x2="515.9" y2="47.9" stroke="#d0d0d0" stroke-width="0.8"/>
<polyline points="420.9,47.50 421.9,45.62 422.8,44.44 423.8,42.81 424.8,42.18 425.7,40.89 426.7,40.05 427.6,39.56 428.6,39.11 429.6,38.46 430.5,38.33 431.5,37.73 432.3,38.19 433.1,37.93 433.9,38.21 434.8,38.88 435.6,38.70 436.4,38.83 437.2,39.41 438.0,39.44 438.9,39.24 439.7,39.66 440.5,39.89 441.3,39.68 442.2,40.16 443.0,39.94 443.9,40.36 444.7,40.46 445.6,40.83 446.4,41.65 447.3,41.52 448.1,42.21 449.0,42.10 449.8,42.50 450.7,42.96 451.6,43.46 452.4,43.69 453.3,44.66 454.1,45.33 455.0,45.64 455.8,46.22 456.7,47.40 457.5,47.78 458.4,48.19 459.3,49.22 460.1,49.91 461.0,51.18 461.8,51.82 462.7,52.40 463.5,53.76 464.4,54.10 465.2,55.09 466.1,55.77 467.0,57.06 467.8,57.41 468.7,58.49 469.6,58.98 470.5,60.04 471.3,60.98 472.2,61.66 473.1,62.40 474.0,63.21 474.8,63.97 475.7,64.87 476.5,64.99 477.3,65.73 478.1,66.04 478.9,66.96 479.7,67.48 480.5,67.35 481.3,67.88 482.1,68.74 482.9,69.13 483.7,69.21 484.5,70.17 485.3,70.81 486.2,70.71 487.0,70.92 487.9,71.34 488.8,71.86 489.7,71.65 490.5,71.94 491.4,72.13 492.3,72.70 493.2,72.85 494.0,72.97 494.9,73.32 495.7,73.35 496.6,73.81 497.4,74.55 498.2,74.55 499.0,74.60 499.9,75.33 500.7,75.20 501.6,75.00 502.6,74.72 503.6,74.68 504.5,74.59 505.5,74.04 506.4,73.91 507.4,72.91 508.4,72.32 509.4,71.12 510.3,69.89 511.2,68.00 512.2,66.88 513.2,63.41 514.1,60.34 515.1,57.17 515.7,49.40" fill="none" stroke="#84c46a" stroke-width="1.4" stroke-linejoin="round"/>
<text x="511.7" y="49.7" font-size="11.7" text-anchor="end" fill="#231f20" class="h"><tspan font-style="italic">q</tspan> = 0.246</text>
<rect x="421.2" y="79.2" width="1.60" height="12.6" fill="rgb(12,12,12)"/>
<rect x="422.8" y="79.2" width="1.00" height="12.6" fill="rgb(127,127,127)"/>
<rect x="423.8" y="79.2" width="1.00" height="12.6" fill="rgb(85,85,85)"/>
<rect x="424.8" y="79.2" width="1.20" height="12.6" fill="rgb(127,127,127)"/>
<rect x="426" y="79.2" width="1.20" height="12.6" fill="rgb(42,42,42)"/>
<rect x="427.2" y="79.2" width="0.70" height="12.6" fill="rgb(102,102,102)"/>
<rect x="427.9" y="79.2" width="1.20" height="12.6" fill="rgb(144,144,144)"/>
<rect x="429.1" y="79.2" width="1.90" height="12.6" fill="rgb(12,12,12)"/>
<rect x="431" y="79.2" width="1.00" height="12.6" fill="rgb(102,102,102)"/>
<rect x="432" y="79.2" width="1.20" height="12.6" fill="rgb(68,68,68)"/>
<rect x="433.2" y="79.2" width="0.70" height="12.6" fill="rgb(127,127,127)"/>
<rect x="433.9" y="79.2" width="1.20" height="12.6" fill="rgb(76,76,76)"/>
<rect x="435.1" y="79.2" width="1.80" height="12.6" fill="rgb(165,165,165)"/>
<rect x="436.9" y="79.2" width="3.30" height="12.6" fill="rgb(12,12,12)"/>
<rect x="440.2" y="79.2" width="0.40" height="12.6" fill="rgb(110,110,110)"/>
<rect x="440.6" y="79.2" width="1.20" height="12.6" fill="rgb(153,153,153)"/>
<rect x="441.8" y="79.2" width="1.20" height="12.6" fill="rgb(51,51,51)"/>
<rect x="443" y="79.2" width="1.90" height="12.6" fill="rgb(110,110,110)"/>
<rect x="444.9" y="79.2" width="1.00" height="12.6" fill="rgb(25,25,25)"/>
<rect x="445.9" y="79.2" width="1.40" height="12.6" fill="rgb(68,68,68)"/>
<rect x="447.3" y="79.2" width="1.00" height="12.6" fill="rgb(59,59,59)"/>
<rect x="448.3" y="79.2" width="2.50" height="12.6" fill="rgb(51,51,51)"/>
<rect x="450.8" y="79.2" width="1.10" height="12.6" fill="rgb(170,170,170)"/>
<rect x="451.9" y="79.2" width="1.10" height="12.6" fill="rgb(119,119,119)"/>
<rect x="453" y="79.2" width="1.50" height="12.6" fill="rgb(140,140,140)"/>
<rect x="454.5" y="79.2" width="1.00" height="12.6" fill="rgb(161,161,161)"/>
<rect x="455.5" y="79.2" width="1.70" height="12.6" fill="rgb(12,12,12)"/>
<rect x="457.2" y="79.2" width="0.70" height="12.6" fill="rgb(136,136,136)"/>
<rect x="457.9" y="79.2" width="1.10" height="12.6" fill="rgb(170,170,170)"/>
<rect x="459" y="79.2" width="1.90" height="12.6" fill="rgb(97,97,97)"/>
<rect x="460.9" y="79.2" width="0.40" height="12.6" fill="rgb(127,127,127)"/>
<rect x="461.3" y="79.2" width="1.70" height="12.6" fill="rgb(17,17,17)"/>
<rect x="463" y="79.2" width="0.70" height="12.6" fill="rgb(119,119,119)"/>
<rect x="463.7" y="79.2" width="1.10" height="12.6" fill="rgb(153,153,153)"/>
<rect x="464.8" y="79.2" width="1.30" height="12.6" fill="rgb(25,25,25)"/>
<rect x="466.1" y="79.2" width="2.80" height="12.6" fill="rgb(72,72,72)"/>
<rect x="468.9" y="79.2" width="1.10" height="12.6" fill="rgb(178,178,178)"/>
<rect x="470" y="79.2" width="2.20" height="12.6" fill="rgb(114,114,114)"/>
<rect x="472.2" y="79.2" width="0.70" height="12.6" fill="rgb(170,170,170)"/>
<rect x="472.9" y="79.2" width="1.10" height="12.6" fill="rgb(51,51,51)"/>
<rect x="474" y="79.2" width="1.90" height="12.6" fill="rgb(136,136,136)"/>
<rect x="475.9" y="79.2" width="1.00" height="12.6" fill="rgb(17,17,17)"/>
<rect x="476.9" y="79.2" width="0.90" height="12.6" fill="rgb(170,170,170)"/>
<rect x="477.8" y="79.2" width="2.20" height="12.6" fill="rgb(153,153,153)"/>
<rect x="480" y="79.2" width="1.40" height="12.6" fill="rgb(165,165,165)"/>
<rect x="481.4" y="79.2" width="1.00" height="12.6" fill="rgb(68,68,68)"/>
<rect x="482.4" y="79.2" width="2.60" height="12.6" fill="rgb(114,114,114)"/>
<rect x="485" y="79.2" width="1.70" height="12.6" fill="rgb(38,38,38)"/>
<rect x="486.7" y="79.2" width="0.50" height="12.6" fill="rgb(178,178,178)"/>
<rect x="487.2" y="79.2" width="1.00" height="12.6" fill="rgb(195,195,195)"/>
<rect x="488.2" y="79.2" width="0.90" height="12.6" fill="rgb(51,51,51)"/>
<rect x="489.1" y="79.2" width="2.40" height="12.6" fill="rgb(12,12,12)"/>
<rect x="491.5" y="79.2" width="2.40" height="12.6" fill="rgb(68,68,68)"/>
<rect x="493.9" y="79.2" width="1.30" height="12.6" fill="rgb(12,12,12)"/>
<rect x="495.2" y="79.2" width="1.00" height="12.6" fill="rgb(76,76,76)"/>
<rect x="496.2" y="79.2" width="1.30" height="12.6" fill="rgb(127,127,127)"/>
<rect x="497.5" y="79.2" width="1.30" height="12.6" fill="rgb(170,170,170)"/>
<rect x="498.8" y="79.2" width="2.20" height="12.6" fill="rgb(204,204,204)"/>
<rect x="501" y="79.2" width="1.20" height="12.6" fill="rgb(59,59,59)"/>
<rect x="502.2" y="79.2" width="0.80" height="12.6" fill="rgb(127,127,127)"/>
<rect x="503" y="79.2" width="3.60" height="12.6" fill="rgb(93,93,93)"/>
<rect x="506.6" y="79.2" width="1.00" height="12.6" fill="rgb(161,161,161)"/>
<rect x="507.6" y="79.2" width="2.10" height="12.6" fill="rgb(12,12,12)"/>
<rect x="509.7" y="79.2" width="1.50" height="12.6" fill="rgb(161,161,161)"/>
<rect x="511.2" y="79.2" width="3.70" height="12.6" fill="rgb(68,68,68)"/>
<rect x="514.9" y="79.2" width="0.70" height="12.6" fill="rgb(17,17,17)"/>
<rect x="420.8" y="91.8" width="95.09999999999997" height="3.7" fill="url(#cbh3)"/>
<rect x="423.1" y="96.4" width="34.2" height="1.3" fill="#f8d4d8"/>
<text x="423.1" y="97.9" font-size="2.9" fill="#ee98a2" textLength="34.2" lengthAdjust="spacingAndGlyphs">'pos' (positively correlated)</text>
<polygon points="420.8,107.5 420.80,102.08 421.59,102.42 422.38,102.72 423.18,103.00 423.97,103.25 424.76,103.48 425.56,103.68 426.35,103.88 427.14,104.05 427.93,104.22 428.73,104.37 429.52,104.52 430.31,104.65 431.10,104.78 431.89,104.89 432.69,105.01 433.48,105.11 434.27,105.21 435.06,105.30 435.86,105.39 436.65,105.48 437.44,105.56 438.24,105.64 439.03,105.71 439.82,105.78 440.61,105.85 441.41,105.92 442.20,105.98 442.99,106.04 443.78,106.10 444.57,106.15 445.37,106.21 446.16,106.26 446.95,106.31 447.75,106.36 448.54,106.41 449.33,106.46 450.12,106.50 450.92,106.55 451.71,106.59 452.50,106.63 453.29,106.67 454.08,106.71 454.88,106.75 455.67,106.79 456.46,106.83 457.25,106.87 458.05,106.90 458.84,106.94 459.63,106.98 460.43,107.01 461.22,107.05 462.01,107.08 462.80,107.12 463.60,107.15 464.39,107.18 465.18,107.22 465.97,107.25 466.76,107.28 467.56,107.32 468.35,107.35 469.14,107.38 469.94,107.42 470.73,107.45 471.52,107.48 472.31,107.52 473.11,107.55 473.90,107.58 474.69,107.62 475.48,107.65 476.27,107.69 477.07,107.72 477.86,107.76 478.65,107.79 479.44,107.83 480.24,107.87 481.03,107.91 481.82,107.95 482.62,107.99 483.41,108.03 484.20,108.07 484.99,108.11 485.78,108.16 486.58,108.20 487.37,108.25 488.16,108.30 488.95,108.35 489.75,108.40 490.54,108.46 491.33,108.51 492.12,108.57 492.92,108.64 493.71,108.70 494.50,108.77 495.29,108.84 496.09,108.92 496.88,109.00 497.67,109.08 498.46,109.18 499.26,109.27 500.05,109.38 500.84,109.49 501.63,109.61 502.43,109.74 503.22,109.89 504.01,110.05 504.80,110.22 505.60,110.41 506.39,110.62 507.18,110.86 507.97,111.13 508.77,111.43 509.56,111.78 510.35,112.19 511.14,112.67 511.94,113.24 512.73,113.95 513.52,114.82 514.31,115.94 515.11,117.42 515.90,119.50 515.9,107.5" fill="#c4c4c4" stroke="#a6a6a6" stroke-width="0.6"/>
<line x1="420.8" y1="107.5" x2="515.9" y2="107.5" stroke="#bababa" stroke-width="2"/>
<line x1="420.8" y1="114.5" x2="515.9" y2="114.5" stroke="#f5f5f5" stroke-width="0.5" stroke-dasharray="1,1"/>
<line x1="420.8" y1="118.0" x2="515.9" y2="118.0" stroke="#f5f5f5" stroke-width="0.5" stroke-dasharray="1,1"/>
<line x1="420.8" y1="121.0" x2="515.9" y2="121.0" stroke="#f5f5f5" stroke-width="0.5" stroke-dasharray="1,1"/>
<line x1="464.0" y1="107.5" x2="464.0" y2="124.5" stroke="#dadada" stroke-width="0.6" stroke-dasharray="1,1"/>
<text x="452.7" y="110.9" font-size="2.8" fill="#6a6a6a" textLength="21" lengthAdjust="spacingAndGlyphs">Zero cross at 9098</text>
<text x="468.8" y="123.4" font-size="2.8" fill="#8080b8" textLength="31.5" lengthAdjust="spacingAndGlyphs">'na' (negatively correlated)</text>
<rect x="420.8" y="36.4" width="95.09999999999997" height="88.1" fill="none" stroke="#4a4a4a" stroke-width="1.2"/>
<line x1="418.6" y1="38.7" x2="420.8" y2="38.7" stroke="#4a4a4a" stroke-width="0.9"/>
<line x1="418.6" y1="47.9" x2="420.8" y2="47.9" stroke="#4a4a4a" stroke-width="0.9"/>
<line x1="418.6" y1="56.9" x2="420.8" y2="56.9" stroke="#4a4a4a" stroke-width="0.9"/>
<line x1="418.6" y1="65.9" x2="420.8" y2="65.9" stroke="#4a4a4a" stroke-width="0.9"/>
<line x1="418.6" y1="75.0" x2="420.8" y2="75.0" stroke="#4a4a4a" stroke-width="0.9"/>
<text transform="translate(414.5,38.6) scale(1,0.92)" font-size="9.3" text-anchor="end" fill="#231f20" class="h">0.1</text>
<text transform="translate(414.5,48.4) scale(1,0.92)" font-size="9.3" text-anchor="end" fill="#231f20" class="h">0.0</text>
<text transform="translate(414.5,59.1) scale(1,0.92)" font-size="9.3" text-anchor="end" fill="#231f20" class="h">&#8722;0.1</text>
<text transform="translate(414.5,68.9) scale(1,0.92)" font-size="9.3" text-anchor="end" fill="#231f20" class="h">&#8722;0.2</text>
<text transform="translate(414.5,77.0) scale(1,0.92)" font-size="9.3" text-anchor="end" fill="#231f20" class="h">&#8722;0.3</text>
<text x="98.6" y="155.4" font-size="13.6" font-weight="bold" fill="#231f20" class="h">B</text>
<line x1="164.2" y1="269.9" x2="330.6" y2="269.9" stroke="#2a2a2a" stroke-width="1.3" stroke-dasharray="4.6,2.5"/>
<line x1="164.2" y1="243.3" x2="330.6" y2="243.3" stroke="#2a2a2a" stroke-width="1.3" stroke-dasharray="4.6,2.5"/>
<line x1="164.2" y1="216.6" x2="330.6" y2="216.6" stroke="#2a2a2a" stroke-width="1.3" stroke-dasharray="4.6,2.5"/>
<line x1="164.2" y1="189.9" x2="330.6" y2="189.9" stroke="#2a2a2a" stroke-width="1.3" stroke-dasharray="4.6,2.5"/>
<line x1="161.2" y1="296.6" x2="164.2" y2="296.6" stroke="#000" stroke-width="1.3"/>
<text x="152.6" y="301.6" font-size="12.8" text-anchor="end" fill="#231f20" class="h">0</text>
<line x1="161.2" y1="269.9" x2="164.2" y2="269.9" stroke="#000" stroke-width="1.3"/>
<text x="152.6" y="274.9" font-size="12.8" text-anchor="end" fill="#231f20" class="h">10</text>
<line x1="161.2" y1="243.3" x2="164.2" y2="243.3" stroke="#000" stroke-width="1.3"/>
<text x="152.6" y="248.3" font-size="12.8" text-anchor="end" fill="#231f20" class="h">20</text>
<line x1="161.2" y1="216.6" x2="164.2" y2="216.6" stroke="#000" stroke-width="1.3"/>
<text x="152.6" y="221.6" font-size="12.8" text-anchor="end" fill="#231f20" class="h">30</text>
<line x1="161.2" y1="189.9" x2="164.2" y2="189.9" stroke="#000" stroke-width="1.3"/>
<text x="152.6" y="194.9" font-size="12.8" text-anchor="end" fill="#231f20" class="h">40</text>
<line x1="161.2" y1="163.3" x2="164.2" y2="163.3" stroke="#000" stroke-width="1.3"/>
<text x="152.6" y="168.3" font-size="12.8" text-anchor="end" fill="#231f20" class="h">50</text>
<text transform="translate(129.1,229.1) rotate(-90)" font-size="13.1" text-anchor="middle" fill="#231f20" class="h">Relative mRNA abundance</text>
<rect x="171.2" y="293.7" width="13.8" height="2.9" fill="#5cc3d9" stroke="#1a1a1a" stroke-width="1.1"/>
<rect x="185.0" y="293.7" width="13.9" height="2.9" fill="#f08538" stroke="#1a1a1a" stroke-width="1.1"/>
<rect x="198.9" y="293.4" width="14.0" height="3.2" fill="#111" stroke="#1a1a1a" stroke-width="1.1"/>
<rect x="226.3" y="184.9" width="14.4" height="111.7" fill="#5cc3d9" stroke="#1a1a1a" stroke-width="1.1"/>
<rect x="240.7" y="228.6" width="14.2" height="68.0" fill="#f08538" stroke="#1a1a1a" stroke-width="1.1"/>
<rect x="254.9" y="292.1" width="14.0" height="4.5" fill="#111" stroke="#1a1a1a" stroke-width="1.1"/>
<rect x="281.9" y="289.1" width="13.9" height="7.5" fill="#5cc3d9" stroke="#1a1a1a" stroke-width="1.1"/>
<rect x="295.8" y="283.3" width="14.2" height="13.3" fill="#f08538" stroke="#1a1a1a" stroke-width="1.1"/>
<rect x="310.0" y="293.7" width="14.2" height="2.9" fill="#111" stroke="#1a1a1a" stroke-width="1.1"/>
<line x1="233.5" y1="178.9" x2="233.5" y2="191.0" stroke="#1a1a1a" stroke-width="1.4"/>
<line x1="230.8" y1="178.9" x2="236.2" y2="178.9" stroke="#1a1a1a" stroke-width="1.4"/>
<line x1="230.8" y1="191.0" x2="236.2" y2="191.0" stroke="#1a1a1a" stroke-width="1.4"/>
<line x1="247.9" y1="219.6" x2="247.9" y2="236.9" stroke="#1a1a1a" stroke-width="1.4"/>
<line x1="245.20000000000002" y1="219.6" x2="250.6" y2="219.6" stroke="#1a1a1a" stroke-width="1.4"/>
<line x1="245.20000000000002" y1="236.9" x2="250.6" y2="236.9" stroke="#1a1a1a" stroke-width="1.4"/>
<line x1="261.9" y1="290.6" x2="261.9" y2="292.4" stroke="#1a1a1a" stroke-width="1.4"/>
<line x1="259.2" y1="290.6" x2="264.59999999999997" y2="290.6" stroke="#1a1a1a" stroke-width="1.4"/>
<line x1="259.2" y1="292.4" x2="264.59999999999997" y2="292.4" stroke="#1a1a1a" stroke-width="1.4"/>
<line x1="288.8" y1="288.3" x2="288.8" y2="289.6" stroke="#1a1a1a" stroke-width="1.4"/>
<line x1="286.1" y1="288.3" x2="291.5" y2="288.3" stroke="#1a1a1a" stroke-width="1.4"/>
<line x1="286.1" y1="289.6" x2="291.5" y2="289.6" stroke="#1a1a1a" stroke-width="1.4"/>
<line x1="302.4" y1="281.3" x2="302.4" y2="285.9" stroke="#1a1a1a" stroke-width="1.4"/>
<line x1="299.7" y1="281.3" x2="305.09999999999997" y2="281.3" stroke="#1a1a1a" stroke-width="1.4"/>
<line x1="299.7" y1="285.9" x2="305.09999999999997" y2="285.9" stroke="#1a1a1a" stroke-width="1.4"/>
<polyline points="234,174.2 234,167.7 288.6,167.7 288.6,283.8" fill="none" stroke="#808080" stroke-width="1"/>
<polyline points="247.9,214.2 247.9,198.1 302.3,198.1 302.3,277.3" fill="none" stroke="#808080" stroke-width="1"/>
<text x="258.7" y="179.3" font-size="12.5" text-anchor="middle" fill="#231f20" class="h">*</text>
<text x="276.3" y="210.4" font-size="11.5" text-anchor="middle" fill="#231f20" class="h">&#8224;</text>
<polyline points="164.2,163.3 164.2,296.6 330.6,296.6" fill="none" stroke="#000" stroke-width="2"/>
<line x1="164.2" y1="163.3" x2="330.6" y2="163.3" stroke="#000" stroke-width="2"/>
<line x1="330.6" y1="163.3" x2="330.6" y2="296.6" stroke="#000" stroke-width="2"/>
<line x1="164.2" y1="296.6" x2="164.2" y2="300" stroke="#000" stroke-width="1.3"/>
<line x1="219.5" y1="296.6" x2="219.5" y2="300" stroke="#000" stroke-width="1.3"/>
<line x1="275.3" y1="296.6" x2="275.3" y2="300" stroke="#000" stroke-width="1.3"/>
<line x1="330.6" y1="296.6" x2="330.6" y2="300" stroke="#000" stroke-width="1.3"/>
<text transform="translate(202.7,310.5) rotate(-60)" font-size="13.3" text-anchor="end" fill="#231f20" class="h">Mock</text>
<text transform="translate(255,310.8) rotate(-60)" font-size="13.3" text-anchor="end" fill="#231f20" class="h">ELF4</text>
<text transform="translate(328.3,310.5) rotate(-60)" font-size="13.3" text-anchor="end" fill="#231f20" class="h">ELF4 (L211M)</text>
<rect x="354.2" y="190.89999999999998" width="6.6" height="6.6" fill="#5cc3d9" stroke="#1a1a1a" stroke-width="1.2"/>
<text x="366.5" y="198.6" font-size="12" font-style="italic" fill="#231f20" class="h">DLX3</text>
<rect x="354.2" y="224.39999999999998" width="6.6" height="6.6" fill="#f08538" stroke="#1a1a1a" stroke-width="1.2"/>
<text x="366.5" y="232.1" font-size="12" font-style="italic" fill="#231f20" class="h">HRK</text>
<rect x="354.2" y="258.9" width="6.6" height="6.6" fill="#111" stroke="#1a1a1a" stroke-width="1.2"/>
<text x="366.5" y="266.59999999999997" font-size="12" font-style="italic" fill="#231f20" class="h">GAPDH</text>
<text x="98.9" y="384.3" font-size="13.8" font-weight="bold" fill="#231f20" class="h">C</text>
<line x1="173.6" y1="488.2" x2="318.6" y2="488.2" stroke="#222" stroke-width="1" stroke-dasharray="3.5,2.5"/>
<line x1="173.6" y1="430.5" x2="318.6" y2="430.5" stroke="#222" stroke-width="1" stroke-dasharray="3.5,2.5"/>
<line x1="169.6" y1="545.9" x2="173.6" y2="545.9" stroke="#000" stroke-width="1"/>
<line x1="171.4" y1="528.5" x2="173.6" y2="528.5" stroke="#000" stroke-width="1"/>
<line x1="171.4" y1="518.4" x2="173.6" y2="518.4" stroke="#000" stroke-width="1"/>
<line x1="171.4" y1="511.2" x2="173.6" y2="511.2" stroke="#000" stroke-width="1"/>
<line x1="171.4" y1="505.6" x2="173.6" y2="505.6" stroke="#000" stroke-width="1"/>
<line x1="171.4" y1="501.0" x2="173.6" y2="501.0" stroke="#000" stroke-width="1"/>
<line x1="171.4" y1="497.1" x2="173.6" y2="497.1" stroke="#000" stroke-width="1"/>
<line x1="171.4" y1="493.8" x2="173.6" y2="493.8" stroke="#000" stroke-width="1"/>
<line x1="171.4" y1="490.8" x2="173.6" y2="490.8" stroke="#000" stroke-width="1"/>
<line x1="169.6" y1="488.2" x2="173.6" y2="488.2" stroke="#000" stroke-width="1"/>
<line x1="171.4" y1="470.8" x2="173.6" y2="470.8" stroke="#000" stroke-width="1"/>
<line x1="171.4" y1="460.7" x2="173.6" y2="460.7" stroke="#000" stroke-width="1"/>
<line x1="171.4" y1="453.5" x2="173.6" y2="453.5" stroke="#000" stroke-width="1"/>
<line x1="171.4" y1="447.9" x2="173.6" y2="447.9" stroke="#000" stroke-width="1"/>
<line x1="171.4" y1="443.3" x2="173.6" y2="443.3" stroke="#000" stroke-width="1"/>
<line x1="171.4" y1="439.4" x2="173.6" y2="439.4" stroke="#000" stroke-width="1"/>
<line x1="171.4" y1="436.1" x2="173.6" y2="436.1" stroke="#000" stroke-width="1"/>
<line x1="171.4" y1="433.1" x2="173.6" y2="433.1" stroke="#000" stroke-width="1"/>
<line x1="169.6" y1="430.5" x2="173.6" y2="430.5" stroke="#000" stroke-width="1"/>
<line x1="171.4" y1="413.1" x2="173.6" y2="413.1" stroke="#000" stroke-width="1"/>
<line x1="171.4" y1="403.0" x2="173.6" y2="403.0" stroke="#000" stroke-width="1"/>
<text x="159.8" y="435.5" font-size="12.2" text-anchor="end" fill="#231f20" class="h">100</text>
<text x="159.8" y="493.2" font-size="12.2" text-anchor="end" fill="#231f20" class="h">10</text>
<text x="159.8" y="550.9" font-size="12.2" text-anchor="end" fill="#231f20" class="h">1</text>
<line x1="173.6" y1="546.0" x2="173.6" y2="549.5" stroke="#000" stroke-width="1.2"/>
<text x="173.6" y="566.9" font-size="12.4" text-anchor="middle" fill="#231f20" class="h">0</text>
<line x1="221.9" y1="546.0" x2="221.9" y2="549.5" stroke="#000" stroke-width="1.2"/>
<text x="221.9" y="566.9" font-size="12.4" text-anchor="middle" fill="#231f20" class="h">5</text>
<line x1="270.3" y1="546.0" x2="270.3" y2="549.5" stroke="#000" stroke-width="1.2"/>
<text x="270.3" y="566.9" font-size="12.4" text-anchor="middle" fill="#231f20" class="h">10</text>
<line x1="318.6" y1="546.0" x2="318.6" y2="549.5" stroke="#000" stroke-width="1.2"/>
<text x="318.6" y="566.9" font-size="12.4" text-anchor="middle" fill="#231f20" class="h">15</text>
<text x="245" y="581.2" font-size="13.3" text-anchor="middle" fill="#231f20" class="h">Time (days)</text>
<text transform="translate(124.4,478.1) rotate(-90)" font-size="13.3" text-anchor="middle" fill="#231f20" class="h">EGFP-positive cells (%)</text>
<polyline points="183.3,430.5 212.3,440.9 241.3,463.8 270.3,469.4 299.3,476.1" fill="none" stroke="#a667b8" stroke-width="3.2" stroke-linejoin="round"/>
<circle cx="183.3" cy="430.5" r="3.8" fill="#fff" fill-opacity="0.3" stroke="#a667b8" stroke-width="1.5"/>
<circle cx="212.3" cy="440.9" r="3.8" fill="#fff" fill-opacity="0.3" stroke="#a667b8" stroke-width="1.5"/>
<circle cx="241.3" cy="463.8" r="3.8" fill="#fff" fill-opacity="0.3" stroke="#a667b8" stroke-width="1.5"/>
<circle cx="270.3" cy="469.4" r="3.8" fill="#fff" fill-opacity="0.3" stroke="#a667b8" stroke-width="1.5"/>
<circle cx="299.3" cy="476.1" r="3.8" fill="#fff" fill-opacity="0.3" stroke="#a667b8" stroke-width="1.5"/>
<line x1="212.3" y1="436.9" x2="212.3" y2="446.2" stroke="#222" stroke-width="1.2"/>
<line x1="209.4" y1="436.9" x2="215.2" y2="436.9" stroke="#222" stroke-width="1.2"/>
<line x1="209.4" y1="446.2" x2="215.2" y2="446.2" stroke="#222" stroke-width="1.2"/>
<line x1="241.3" y1="462.0" x2="241.3" y2="465.6" stroke="#222" stroke-width="1.2"/>
<line x1="239.3" y1="462.0" x2="243.3" y2="462.0" stroke="#222" stroke-width="1.2"/>
<line x1="239.3" y1="465.6" x2="243.3" y2="465.6" stroke="#222" stroke-width="1.2"/>
<line x1="270.3" y1="464.2" x2="270.3" y2="476.4" stroke="#222" stroke-width="1.2"/>
<line x1="267.4" y1="464.2" x2="273.2" y2="464.2" stroke="#222" stroke-width="1.2"/>
<line x1="267.4" y1="476.4" x2="273.2" y2="476.4" stroke="#222" stroke-width="1.2"/>
<line x1="299.3" y1="472.8" x2="299.3" y2="480.7" stroke="#222" stroke-width="1.2"/>
<line x1="296.4" y1="472.8" x2="302.2" y2="472.8" stroke="#222" stroke-width="1.2"/>
<line x1="296.4" y1="480.7" x2="302.2" y2="480.7" stroke="#222" stroke-width="1.2"/>
<polyline points="183.3,430.5 212.3,427.0 241.3,440.5 270.3,478.9 299.3,484.1" fill="none" stroke="#5cc4d6" stroke-width="3.2" stroke-linejoin="round"/>
<circle cx="183.3" cy="430.5" r="3.8" fill="#fff" fill-opacity="0.3" stroke="#5cc4d6" stroke-width="1.5"/>
<circle cx="212.3" cy="427.0" r="3.8" fill="#fff" fill-opacity="0.3" stroke="#5cc4d6" stroke-width="1.5"/>
<circle cx="241.3" cy="440.5" r="3.8" fill="#fff" fill-opacity="0.3" stroke="#5cc4d6" stroke-width="1.5"/>
<circle cx="270.3" cy="478.9" r="3.8" fill="#fff" fill-opacity="0.3" stroke="#5cc4d6" stroke-width="1.5"/>
<circle cx="299.3" cy="484.1" r="3.8" fill="#fff" fill-opacity="0.3" stroke="#5cc4d6" stroke-width="1.5"/>
<line x1="212.3" y1="423.0" x2="212.3" y2="430.0" stroke="#222" stroke-width="1.2"/>
<line x1="209.4" y1="423.0" x2="215.2" y2="423.0" stroke="#222" stroke-width="1.2"/>
<line x1="209.4" y1="430.0" x2="215.2" y2="430.0" stroke="#222" stroke-width="1.2"/>
<line x1="241.3" y1="433.1" x2="241.3" y2="451.9" stroke="#222" stroke-width="1.2"/>
<line x1="238.4" y1="433.1" x2="244.2" y2="433.1" stroke="#222" stroke-width="1.2"/>
<line x1="238.4" y1="451.9" x2="244.2" y2="451.9" stroke="#222" stroke-width="1.2"/>
<line x1="270.3" y1="472.4" x2="270.3" y2="487.7" stroke="#222" stroke-width="1.2"/>
<line x1="267.4" y1="472.4" x2="273.2" y2="472.4" stroke="#222" stroke-width="1.2"/>
<line x1="267.4" y1="487.7" x2="273.2" y2="487.7" stroke="#222" stroke-width="1.2"/>
<line x1="299.3" y1="475.2" x2="299.3" y2="497.9" stroke="#222" stroke-width="1.2"/>
<line x1="296.4" y1="475.2" x2="302.2" y2="475.2" stroke="#222" stroke-width="1.2"/>
<line x1="296.4" y1="497.9" x2="302.2" y2="497.9" stroke="#222" stroke-width="1.2"/>
<polyline points="183.3,430.5 212.3,419.5 241.3,419.5 270.3,419.5 299.3,419.5" fill="none" stroke="#111111" stroke-width="2.4" stroke-linejoin="round"/>
<circle cx="183.3" cy="430.5" r="3.8" fill="#fff" fill-opacity="0.3" stroke="#111111" stroke-width="1.5"/>
<circle cx="212.3" cy="419.5" r="3.8" fill="#fff" fill-opacity="0.3" stroke="#111111" stroke-width="1.5"/>
<circle cx="241.3" cy="419.5" r="3.8" fill="#fff" fill-opacity="0.3" stroke="#111111" stroke-width="1.5"/>
<circle cx="270.3" cy="419.5" r="3.8" fill="#fff" fill-opacity="0.3" stroke="#111111" stroke-width="1.5"/>
<circle cx="299.3" cy="419.5" r="3.8" fill="#fff" fill-opacity="0.3" stroke="#111111" stroke-width="1.5"/>
<line x1="212.3" y1="418.3" x2="212.3" y2="420.7" stroke="#222" stroke-width="1.2"/>
<line x1="210.1" y1="418.3" x2="214.5" y2="418.3" stroke="#222" stroke-width="1.2"/>
<line x1="210.1" y1="420.7" x2="214.5" y2="420.7" stroke="#222" stroke-width="1.2"/>
<line x1="241.3" y1="418.3" x2="241.3" y2="420.7" stroke="#222" stroke-width="1.2"/>
<line x1="239.1" y1="418.3" x2="243.5" y2="418.3" stroke="#222" stroke-width="1.2"/>
<line x1="239.1" y1="420.7" x2="243.5" y2="420.7" stroke="#222" stroke-width="1.2"/>
<line x1="270.3" y1="418.3" x2="270.3" y2="420.7" stroke="#222" stroke-width="1.2"/>
<line x1="268.1" y1="418.3" x2="272.5" y2="418.3" stroke="#222" stroke-width="1.2"/>
<line x1="268.1" y1="420.7" x2="272.5" y2="420.7" stroke="#222" stroke-width="1.2"/>
<line x1="299.3" y1="418.3" x2="299.3" y2="420.7" stroke="#222" stroke-width="1.2"/>
<line x1="297.1" y1="418.3" x2="301.5" y2="418.3" stroke="#222" stroke-width="1.2"/>
<line x1="297.1" y1="420.7" x2="301.5" y2="420.7" stroke="#222" stroke-width="1.2"/>
<polyline points="183.3,430.5 212.3,473.5 241.3,488.2 270.3,497.9 299.3,507.7" fill="none" stroke="#f0843c" stroke-width="2.8" stroke-linejoin="round"/>
<circle cx="183.3" cy="430.5" r="3.8" fill="#fff" fill-opacity="0.3" stroke="#f0843c" stroke-width="1.5"/>
<circle cx="212.3" cy="473.5" r="3.8" fill="#fff" fill-opacity="0.3" stroke="#f0843c" stroke-width="1.5"/>
<circle cx="241.3" cy="488.2" r="3.8" fill="#fff" fill-opacity="0.3" stroke="#f0843c" stroke-width="1.5"/>
<circle cx="270.3" cy="497.9" r="3.8" fill="#fff" fill-opacity="0.3" stroke="#f0843c" stroke-width="1.5"/>
<circle cx="299.3" cy="507.7" r="3.8" fill="#fff" fill-opacity="0.3" stroke="#f0843c" stroke-width="1.5"/>
<line x1="212.3" y1="471.7" x2="212.3" y2="475.3" stroke="#222" stroke-width="1.2"/>
<line x1="210.3" y1="471.7" x2="214.3" y2="471.7" stroke="#222" stroke-width="1.2"/>
<line x1="210.3" y1="475.3" x2="214.3" y2="475.3" stroke="#222" stroke-width="1.2"/>
<line x1="241.3" y1="486.4" x2="241.3" y2="490.0" stroke="#222" stroke-width="1.2"/>
<line x1="239.3" y1="486.4" x2="243.3" y2="486.4" stroke="#222" stroke-width="1.2"/>
<line x1="239.3" y1="490.0" x2="243.3" y2="490.0" stroke="#222" stroke-width="1.2"/>
<line x1="270.3" y1="492.0" x2="270.3" y2="505.4" stroke="#222" stroke-width="1.2"/>
<line x1="267.4" y1="492.0" x2="273.2" y2="492.0" stroke="#222" stroke-width="1.2"/>
<line x1="267.4" y1="505.4" x2="273.2" y2="505.4" stroke="#222" stroke-width="1.2"/>
<line x1="299.3" y1="501.4" x2="299.3" y2="516.2" stroke="#222" stroke-width="1.2"/>
<line x1="296.4" y1="501.4" x2="302.2" y2="501.4" stroke="#222" stroke-width="1.2"/>
<line x1="296.4" y1="516.2" x2="302.2" y2="516.2" stroke="#222" stroke-width="1.2"/>
<rect x="173.6" y="402.9" width="145.00000000000003" height="143.10000000000002" fill="none" stroke="#000" stroke-width="2"/>
<line x1="330" y1="424.4" x2="350.4" y2="424.4" stroke="#111111" stroke-width="2.6"/>
<circle cx="340" cy="424.4" r="3.4" fill="#fff" stroke="#111111" stroke-width="1.3"/>
<line x1="336.6" y1="424.4" x2="343.4" y2="424.4" stroke="#111111" stroke-width="1.3"/>
<text x="359.8" y="427.9" font-size="11.8" fill="#231f20" class="h">Mock</text>
<line x1="330" y1="456.1" x2="350.4" y2="456.1" stroke="#a667b8" stroke-width="2.6"/>
<circle cx="340" cy="456.1" r="3.4" fill="#fff" stroke="#a667b8" stroke-width="1.3"/>
<line x1="336.6" y1="456.1" x2="343.4" y2="456.1" stroke="#a667b8" stroke-width="1.3"/>
<text x="359.8" y="459.6" font-size="11.8" fill="#231f20" class="h">ELF4</text>
<line x1="330" y1="488.7" x2="350.4" y2="488.7" stroke="#5cc4d6" stroke-width="2.6"/>
<circle cx="340" cy="488.7" r="3.4" fill="#fff" stroke="#5cc4d6" stroke-width="1.3"/>
<line x1="336.6" y1="488.7" x2="343.4" y2="488.7" stroke="#5cc4d6" stroke-width="1.3"/>
<text x="359.8" y="492.2" font-size="11.8" fill="#231f20" class="h">DLX3</text>
<line x1="330" y1="520.9" x2="350.4" y2="520.9" stroke="#f0843c" stroke-width="2.6"/>
<circle cx="340" cy="520.9" r="3.4" fill="#fff" stroke="#f0843c" stroke-width="1.3"/>
<line x1="336.6" y1="520.9" x2="343.4" y2="520.9" stroke="#f0843c" stroke-width="1.3"/>
<text x="359.8" y="524.4" font-size="11.8" fill="#231f20" class="h">HRK</text>
</svg></body></html>
